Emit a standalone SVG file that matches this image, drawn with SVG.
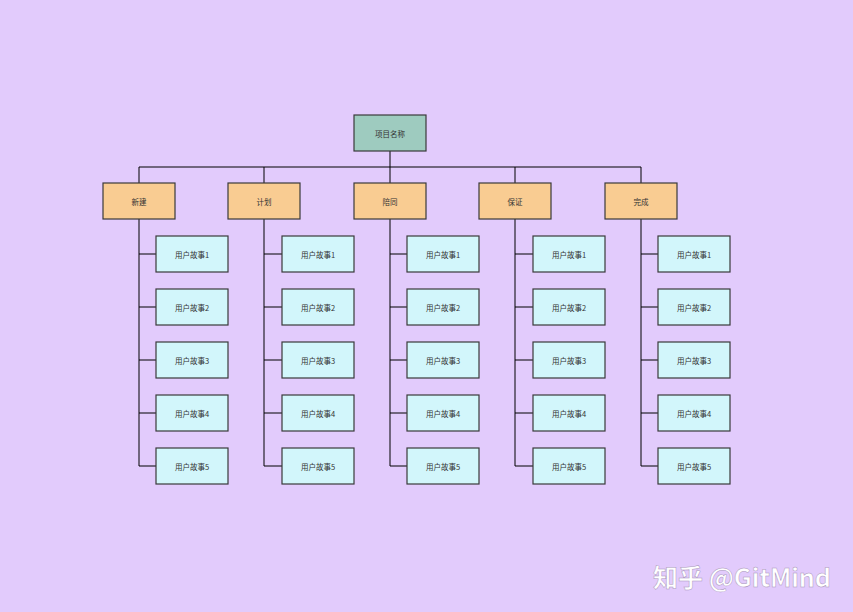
<svg xmlns="http://www.w3.org/2000/svg" width="853" height="612" viewBox="0 0 853 612">
<style>
.b{stroke:#3a3a3a;stroke-width:1.2}
.r{fill:#9ecbbf}.p{fill:#f9cc92}.c{fill:#d2f6fb}
text{font-family:"Noto Sans CJK SC","Liberation Sans",sans-serif;font-size:7.5px;fill:#333;text-anchor:middle;dominant-baseline:central}
.l{stroke:#000;stroke-width:1;fill:none}
</style>
<rect width="853" height="612" fill="#e2cbfc"/>
<g id="connectors">
<path class="l" d="M390 151V167M139 167H641M139 167V183M264 167V183M390 167V183M515 167V183M641 167V183"/>
<path class="l" d="M139 219V466M139 254H156M139 307H156M139 360H156M139 413H156M139 466H156"/>
<path class="l" d="M264 219V466M264 254H282M264 307H282M264 360H282M264 413H282M264 466H282"/>
<path class="l" d="M390 219V466M390 254H407M390 307H407M390 360H407M390 413H407M390 466H407"/>
<path class="l" d="M515 219V466M515 254H533M515 307H533M515 360H533M515 413H533M515 466H533"/>
<path class="l" d="M641 219V466M641 254H658M641 307H658M641 360H658M641 413H658M641 466H658"/>
</g>
<g id="root"><rect class="b r" x="354" y="115" width="72" height="36"/><text x="390" y="133">项目名称</text></g>
<g id="p1"><rect class="b p" x="103" y="183" width="72" height="36"/><text x="139" y="201">新建</text></g>
<g id="p2"><rect class="b p" x="228" y="183" width="72" height="36"/><text x="264" y="201">计划</text></g>
<g id="p3"><rect class="b p" x="354" y="183" width="72" height="36"/><text x="390" y="201">陪同</text></g>
<g id="p4"><rect class="b p" x="479" y="183" width="72" height="36"/><text x="515" y="201">保证</text></g>
<g id="p5"><rect class="b p" x="605" y="183" width="72" height="36"/><text x="641" y="201">完成</text></g>
<g id="c1">
<rect class="b c" x="156" y="236" width="72" height="36"/><text x="192" y="254">用户故事1</text>
<rect class="b c" x="156" y="289" width="72" height="36"/><text x="192" y="307">用户故事2</text>
<rect class="b c" x="156" y="342" width="72" height="36"/><text x="192" y="360">用户故事3</text>
<rect class="b c" x="156" y="395" width="72" height="36"/><text x="192" y="413">用户故事4</text>
<rect class="b c" x="156" y="448" width="72" height="36"/><text x="192" y="466">用户故事5</text>
</g>
<g id="c2">
<rect class="b c" x="282" y="236" width="72" height="36"/><text x="318" y="254">用户故事1</text>
<rect class="b c" x="282" y="289" width="72" height="36"/><text x="318" y="307">用户故事2</text>
<rect class="b c" x="282" y="342" width="72" height="36"/><text x="318" y="360">用户故事3</text>
<rect class="b c" x="282" y="395" width="72" height="36"/><text x="318" y="413">用户故事4</text>
<rect class="b c" x="282" y="448" width="72" height="36"/><text x="318" y="466">用户故事5</text>
</g>
<g id="c3">
<rect class="b c" x="407" y="236" width="72" height="36"/><text x="443" y="254">用户故事1</text>
<rect class="b c" x="407" y="289" width="72" height="36"/><text x="443" y="307">用户故事2</text>
<rect class="b c" x="407" y="342" width="72" height="36"/><text x="443" y="360">用户故事3</text>
<rect class="b c" x="407" y="395" width="72" height="36"/><text x="443" y="413">用户故事4</text>
<rect class="b c" x="407" y="448" width="72" height="36"/><text x="443" y="466">用户故事5</text>
</g>
<g id="c4">
<rect class="b c" x="533" y="236" width="72" height="36"/><text x="569" y="254">用户故事1</text>
<rect class="b c" x="533" y="289" width="72" height="36"/><text x="569" y="307">用户故事2</text>
<rect class="b c" x="533" y="342" width="72" height="36"/><text x="569" y="360">用户故事3</text>
<rect class="b c" x="533" y="395" width="72" height="36"/><text x="569" y="413">用户故事4</text>
<rect class="b c" x="533" y="448" width="72" height="36"/><text x="569" y="466">用户故事5</text>
</g>
<g id="c5">
<rect class="b c" x="658" y="236" width="72" height="36"/><text x="694" y="254">用户故事1</text>
<rect class="b c" x="658" y="289" width="72" height="36"/><text x="694" y="307">用户故事2</text>
<rect class="b c" x="658" y="342" width="72" height="36"/><text x="694" y="360">用户故事3</text>
<rect class="b c" x="658" y="395" width="72" height="36"/><text x="694" y="413">用户故事4</text>
<rect class="b c" x="658" y="448" width="72" height="36"/><text x="694" y="466">用户故事5</text>
</g>
<text x="742" y="576" style="font-size:25px;font-weight:bold;fill:#fff;stroke:#a996bc;stroke-width:0.5;text-anchor:middle">知乎 @GitMind</text>
</svg>
